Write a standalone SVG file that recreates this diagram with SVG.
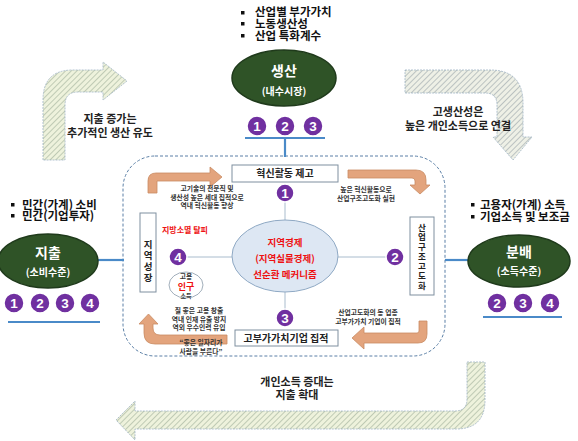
<svg xmlns="http://www.w3.org/2000/svg" width="578" height="441" viewBox="0 0 578 441">
<defs>
<pattern id="hatchG" width="4" height="4" patternUnits="userSpaceOnUse" patternTransform="rotate(45)">
<rect width="4" height="4" fill="#eef2dc"/>
<line x1="0" y1="0" x2="0" y2="4" stroke="#9fb09a" stroke-width="1.2"/>
</pattern>
<pattern id="hatchB" width="4" height="4" patternUnits="userSpaceOnUse" patternTransform="rotate(45)">
<rect width="4" height="4" fill="#eef0e6"/>
<line x1="0" y1="0" x2="0" y2="4" stroke="#98a4a8" stroke-width="1.2"/>
</pattern>
<style>
text{font-family:"Noto Sans CJK KR","Noto Sans",sans-serif;}
.b{font-size:11.5px;font-weight:bold;fill:#111;}
.bul{fill:#111;}
.ell{fill:#2f5327;stroke:#1f3a1b;stroke-width:1.5;}
.et{fill:#fff;font-weight:bold;text-anchor:middle;}
.num circle{fill:#7030a0;stroke:#fff;stroke-width:1.5;}
.num text{fill:#fff;font-family:"Liberation Sans",Arial,sans-serif;font-weight:bold;font-size:13.5px;text-anchor:middle;}
.ul{stroke:#4a8ac8;stroke-width:2.2;}
.conn{stroke:#4a8ac8;stroke-width:2.2;fill:none;}
.thin{stroke:#a9bccd;stroke-width:1;fill:none;}
.box{fill:#fff;stroke:#7f8f9f;stroke-width:1;}
.bt{font-size:10px;font-weight:bold;fill:#222;text-anchor:middle;}
.vt{font-weight:bold;fill:#222;text-anchor:middle;writing-mode:vertical-rl;}
.st{font-size:6.8px;font-weight:bold;fill:#333;text-anchor:middle;}
.red{fill:#ee1111;font-weight:bold;text-anchor:middle;}
.orange{fill:#e3a47d;stroke:#c98b63;stroke-width:0.8;}
.hg{fill:url(#hatchG);stroke:#9fb4c4;stroke-width:0.8;stroke-dasharray:2 1;}
.hb{fill:url(#hatchB);stroke:#9fb4c4;stroke-width:0.8;stroke-dasharray:2 1;}
.at{font-size:11px;font-weight:bold;fill:#222;text-anchor:middle;}
</style>
</defs>
<rect width="578" height="441" fill="#fff"/>

<!-- big hatched arrows -->
<g id="arrow-left">
<path class="hg" d="M43,160 L43,100 Q43,70 73,70 L103,70 L103,62 L127,81 L103,100 L103,92 L78,92 Q65,92 65,105 L65,160 Z"/>
<text class="at" x="110" y="123">지출 증가는<tspan x="110" dy="14">추가적인 생산 유도</tspan></text>
</g>
<g id="arrow-right">
<path class="hb" d="M405,70 L490,70 Q523,70 523,103 L523,137 L532,137 L513,160 L493,137 L497,137 L497,105 Q497,93 485,93 L405,93 Z"/>
<text class="at" x="458" y="116">고생산성은<tspan x="458" dy="14">높은 개인소득으로 연결</tspan></text>
</g>
<g id="arrow-bottom">
<path class="hg" d="M467,362 L485,362 L485,400 Q485,429 456,429 L135,429 L135,440 L116,420 L135,401 L135,411 L455,411 Q467,411 467,399 Z"/>
<text class="at" x="297" y="386">개인소득 증대는<tspan x="297" dy="13">지출 확대</tspan></text>
</g>

<!-- dashed frame -->
<rect x="123" y="156" width="322" height="200" rx="32" fill="none" stroke="#5b7fa6" stroke-width="1" stroke-dasharray="3 2"/>

<!-- connectors -->
<g id="connectors">
<line class="conn" x1="285" y1="137" x2="285" y2="157"/>
<line class="conn" x1="98" y1="260" x2="124" y2="260"/>
<line class="conn" x1="445" y1="260" x2="469" y2="260"/>
<line class="thin" x1="285" y1="201" x2="285" y2="220"/>
<line class="thin" x1="187" y1="257" x2="232" y2="257"/>
<line class="thin" x1="338" y1="257" x2="386" y2="257"/>
<line class="thin" x1="285" y1="292" x2="285" y2="309"/>
</g>

<!-- production -->
<g id="production">
<rect class="bul" x="241" y="11" width="3.5" height="3.5"/>
<rect class="bul" x="241" y="22" width="3.5" height="3.5"/>
<rect class="bul" x="241" y="34" width="3.5" height="3.5"/>
<text class="b" x="255" y="16">산업별 부가가치<tspan x="255" dy="12">노동생산성</tspan><tspan x="255" dy="12">산업 특화계수</tspan></text>
<ellipse class="ell" cx="284" cy="78" rx="52" ry="28"/>
<text class="et" x="284" y="76" font-size="14">생산<tspan x="284" dy="19" font-size="10">(내수시장)</tspan></text>
<g class="num">
<circle cx="257" cy="126" r="10"/><text x="257" y="131">1</text>
<circle cx="285" cy="126" r="10"/><text x="285" y="131">2</text>
<circle cx="313" cy="126" r="10"/><text x="313" y="131">3</text>
</g>
<line class="ul" x1="245" y1="138" x2="325" y2="138"/>
</g>

<!-- spending -->
<g id="spending">
<rect class="bul" x="11" y="203" width="3.5" height="3.5"/>
<rect class="bul" x="11" y="214" width="3.5" height="3.5"/>
<text class="b" x="22" y="209">민간(가계) 소비<tspan x="22" dy="11">민간(기업투자)</tspan></text>
<ellipse class="ell" cx="48" cy="261" rx="50" ry="27"/>
<text class="et" x="48" y="258" font-size="14">지출<tspan x="48" dy="18" font-size="10">(소비수준)</tspan></text>
<g class="num">
<circle cx="14" cy="303" r="10"/><text x="14" y="308">1</text>
<circle cx="40" cy="303" r="10"/><text x="40" y="308">2</text>
<circle cx="65" cy="303" r="10"/><text x="65" y="308">3</text>
<circle cx="90" cy="303" r="10"/><text x="90" y="308">4</text>
</g>
<line class="ul" x1="8" y1="322" x2="100" y2="322"/>
</g>

<!-- distribution -->
<g id="distribution">
<rect class="bul" x="471" y="203" width="3.5" height="3.5"/>
<rect class="bul" x="471" y="215" width="3.5" height="3.5"/>
<text class="b" x="480" y="209">고용자(가계) 소득<tspan x="480" dy="12">기업소득 및 보조금</tspan></text>
<ellipse class="ell" cx="519" cy="261" rx="51" ry="26"/>
<text class="et" x="519" y="257" font-size="14">분배<tspan x="519" dy="18" font-size="10">(소득수준)</tspan></text>
<g class="num">
<circle cx="497" cy="303" r="10"/><text x="497" y="308">2</text>
<circle cx="523" cy="303" r="10"/><text x="523" y="308">3</text>
<circle cx="550" cy="303" r="10"/><text x="550" y="308">4</text>
</g>
<line class="ul" x1="483" y1="317" x2="562" y2="317"/>
</g>

<!-- inner cycle -->
<g id="innovation">
<rect class="box" x="232" y="165" width="106" height="17"/>
<text class="bt" x="285" y="177">혁신활동 제고</text>
<g class="num"><circle cx="285" cy="193" r="9"/><text x="285" y="198">1</text></g>
</g>
<g id="industry">
<rect class="box" x="410" y="217" width="24" height="78"/>
<text class="vt" x="422" y="257" font-size="8.5" letter-spacing="1.2">산업구조고도화</text>
<g class="num"><circle cx="395" cy="257" r="9"/><text x="395" y="262">2</text></g>
</g>
<g id="cluster">
<rect class="box" x="235" y="330" width="103" height="16"/>
<text class="bt" x="286" y="342">고부가가치기업 집적</text>
<g class="num"><circle cx="285" cy="318" r="9"/><text x="285" y="323">3</text></g>
</g>
<g id="growth">
<rect class="box" x="140" y="213" width="16" height="79"/>
<text class="vt" x="148" y="262" font-size="9.5" letter-spacing="1.5">지역성장</text>
<g class="num"><circle cx="178" cy="257" r="9"/><text x="178" y="262">4</text></g>
<text class="red" x="185" y="233" font-size="8">지방소멸 탈피</text>
</g>
<g id="center">
<ellipse cx="285" cy="256" rx="53" ry="36" fill="#dde7f3" stroke="#8fa9c4" stroke-width="1"/>
<text class="red" x="285" y="246" font-size="9.5">지역경제<tspan x="285" dy="16">(지역실물경제)</tspan><tspan x="285" dy="16">선순환 메커니즘</tspan></text>
</g>
<g id="population">
<ellipse cx="186" cy="285" rx="17" ry="13" fill="#fff" stroke="#8a9aaa" stroke-width="0.8"/>
<text class="st" x="186" y="279" font-size="6">고용<tspan x="186" dy="10.5" font-size="9" fill="#ee1111">인구</tspan><tspan x="186" dy="8" font-size="6">소득</tspan></text>
</g>

<!-- orange arrows -->
<g id="orange-arrows">
<path class="orange" d="M148,193 L148,181 Q148,173 156,173 L210,173 L210,167 L222,177 L210,187 L210,181 L157,181 L157,193 Z"/>
<path class="orange" d="M348,170 L416,170 Q426,170 426,180 L426,185 L430,185 L420,194 L410,185 L415,185 L415,181 Q415,178 412,178 L348,178 Z"/>
<path class="orange" d="M427,321 L427,334 Q427,343 418,343 L364,343 L364,349 L352,338 L364,327 L364,333 L417,333 Q419,333 419,331 L419,321 Z"/>
<path class="orange" d="M227,335 L160,335 Q153,335 153,328 L153,324 L158,324 L148.5,314 L139,324 L144,324 L144,333 Q144,344 155,344 L227,344 Z"/>
</g>

<!-- inner small texts -->
<g id="labels">
<text class="st" x="207" y="191">고기술의 전문직 및<tspan x="207" dy="8.5">생산성 높은 세대 집적으로</tspan><tspan x="207" dy="8.5">역내 혁신활동 향상</tspan></text>
<text class="st" x="366" y="192">높은 혁신활동으로<tspan x="366" dy="8.5">산업구조고도화 실현</tspan></text>
<text class="st" x="368" y="315">산업고도화의 동 업종<tspan x="368" dy="8.5">고부가가치 기업이 집적</tspan></text>
<text class="st" x="199" y="313">질 좋은 고용 창출<tspan x="199" dy="8.5">역내 인재 유출 방지</tspan><tspan x="199" dy="8.5">역외 우수인력 유입</tspan></text>
<text class="st" x="201" y="345">“좋은 일자리가<tspan x="201" dy="8.5">사람을 부른다”</tspan></text>
</g>
</svg>
